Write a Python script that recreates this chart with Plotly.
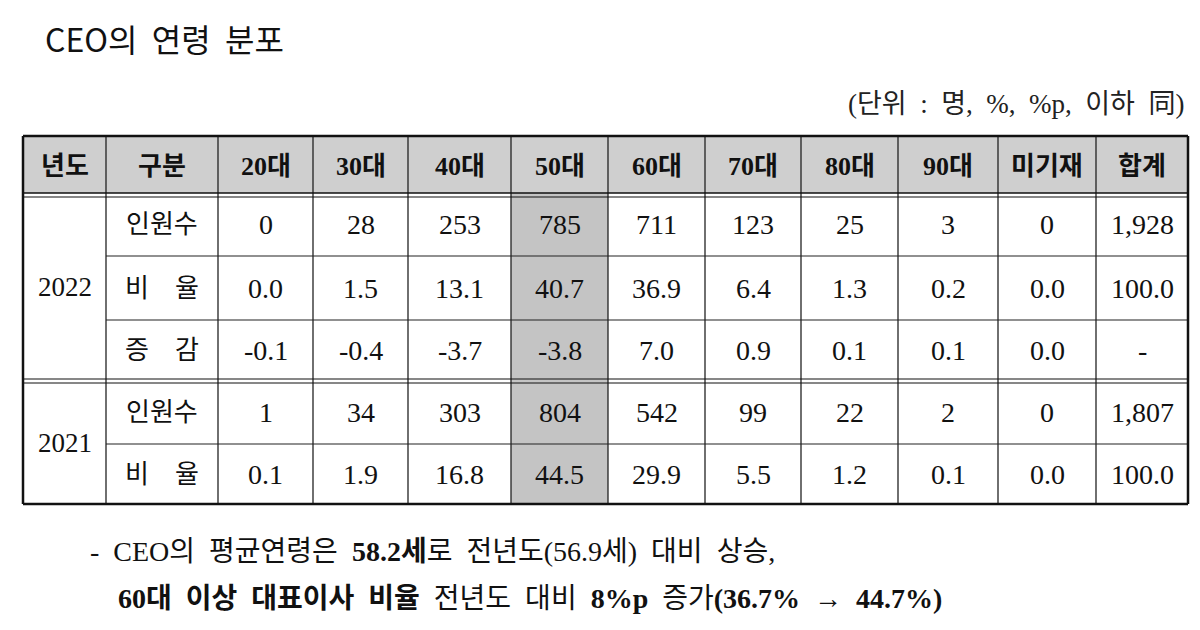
import plotly.graph_objects as go

title = "CEO의  연령  분포"
unit = "(단위  :  명,  %,  %p,  이하  同)"
headers = ["년도", "구분", "20대", "30대", "40대", "50대", "60대", "70대", "80대", "90대", "미기재", "합계"]
years = ["2022", "2021"]
row_labels = ["인원수", "비    율", "증    감", "인원수", "비    율"]
rows = [
    ["0", "28", "253", "785", "711", "123", "25", "3", "0", "1,928"],
    ["0.0", "1.5", "13.1", "40.7", "36.9", "6.4", "1.3", "0.2", "0.0", "100.0"],
    ["-0.1", "-0.4", "-3.7", "-3.8", "7.0", "0.9", "0.1", "0.1", "0.0", "-"],
    ["1", "34", "303", "804", "542", "99", "22", "2", "0", "1,807"],
    ["0.1", "1.9", "16.8", "44.5", "29.9", "5.5", "1.2", "0.1", "0.0", "100.0"],
]
note1 = "-  CEO의  평균연령은  <b>58.2세</b>로  전년도(56.9세)  대비  상승,"
note2 = "<b>60대  이상  대표이사  비율</b>  전년도  대비  <b>8%p</b>  증가<b>(36.7%  →  44.7%)</b>"

# layout geometry
xb = [15, 98, 210, 305, 400, 503, 600, 697, 793, 890, 990, 1088, 1180]
yb = [128, 185, 248, 312, 373, 436, 496]
FONT = "Liberation Serif, Noto Sans CJK KR"

fig = go.Figure()
shapes = []
ann = []
shapes.append(dict(type="rect", x0=xb[0], x1=xb[-1], y0=yb[0], y1=yb[1], fillcolor="#cfcfcf", line_width=0, layer="below"))
shapes.append(dict(type="rect", x0=xb[5], x1=xb[6], y0=yb[1], y1=yb[-1], fillcolor="#c4c4c4", line_width=0, layer="below"))
for i, x in enumerate(xb):
    if i in (0, len(xb) - 1):
        continue
    shapes.append(dict(type="line", x0=x, x1=x, y0=yb[0], y1=yb[-1], line=dict(color="#222", width=1.3)))
shapes.append(dict(type="line", x0=xb[0], x1=xb[-1], y0=yb[0], y1=yb[0], line=dict(color="#111", width=2.5)))
shapes.append(dict(type="line", x0=xb[0], x1=xb[-1], y0=yb[-1], y1=yb[-1], line=dict(color="#111", width=2.5)))
shapes.append(dict(type="line", x0=xb[0], x1=xb[-1], y0=yb[1], y1=yb[1], line=dict(color="#111", width=1.5)))
shapes.append(dict(type="line", x0=xb[0], x1=xb[-1], y0=yb[1] + 4, y1=yb[1] + 4, line=dict(color="#111", width=1.2)))
shapes.append(dict(type="line", x0=xb[0], x1=xb[-1], y0=yb[4] - 2, y1=yb[4] - 2, line=dict(color="#111", width=1.2)))
shapes.append(dict(type="line", x0=xb[0], x1=xb[-1], y0=yb[4] + 2, y1=yb[4] + 2, line=dict(color="#111", width=1.2)))
for j in (2, 3, 5):
    shapes.append(dict(type="line", x0=xb[1], x1=xb[-1], y0=yb[j], y1=yb[j], line=dict(color="#222", width=1.2)))
shapes.append(dict(type="line", x0=xb[0], x1=xb[0], y0=yb[0], y1=yb[-1], line=dict(color="#111", width=2.5)))
shapes.append(dict(type="line", x0=xb[-1], x1=xb[-1], y0=yb[0], y1=yb[-1], line=dict(color="#111", width=2.5)))

def cx(i):
    return (xb[i] + xb[i + 1]) / 2

for i, h in enumerate(headers):
    ann.append(dict(x=cx(i), y=(yb[0] + yb[1]) / 2 + 2, text=f"<b>{h}</b>", font=dict(size=26, family=FONT, color="#111")))
ann.append(dict(x=cx(0), y=(yb[1] + yb[4]) / 2, text=years[0], font=dict(size=27, family=FONT, color="#111")))
ann.append(dict(x=cx(0), y=(yb[4] + yb[6]) / 2, text=years[1], font=dict(size=27, family=FONT, color="#111")))
for r, (lab, vals) in enumerate(zip(row_labels, rows)):
    yc = (yb[r + 1] + yb[r + 2]) / 2
    ann.append(dict(x=cx(1), y=yc, text=lab, font=dict(size=26, family=FONT, color="#111")))
    for c, v in enumerate(vals):
        ann.append(dict(x=cx(c + 2), y=yc, text=v, font=dict(size=28, family=FONT, color="#111")))

ann.append(dict(x=35, y=30, text=title, xanchor="left", font=dict(size=32, family="Noto Sans CJK KR", color="#111")))
ann.append(dict(x=1178, y=96, text=unit, xanchor="right", font=dict(size=27, family=FONT, color="#222")))
ann.append(dict(x=80, y=543, text=note1, xanchor="left", font=dict(size=28, family=FONT, color="#111")))
ann.append(dict(x=108, y=590, text=note2, xanchor="left", font=dict(size=28, family=FONT, color="#111")))
for a in ann:
    a.update(xref="x", yref="y", showarrow=False)

fig.update_layout(
    width=1200, height=630, margin=dict(l=0, r=0, t=0, b=0),
    paper_bgcolor="white", plot_bgcolor="white", showlegend=False,
    xaxis=dict(range=[0, 1200], visible=False, fixedrange=True),
    yaxis=dict(range=[630, 0], visible=False, fixedrange=True),
    shapes=shapes, annotations=ann,
)
fig.write_html("out.html", config={"displayModeBar": False})
